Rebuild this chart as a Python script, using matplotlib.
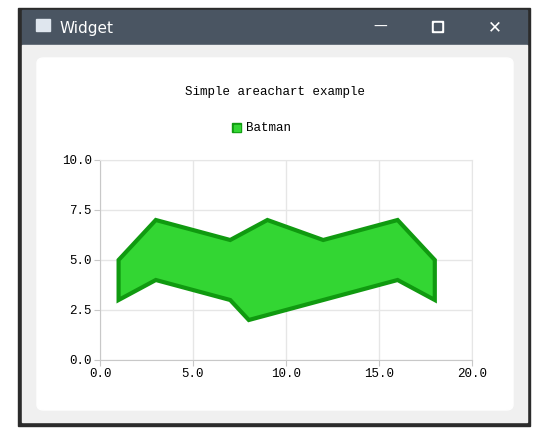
import matplotlib
matplotlib.use("Agg")
import matplotlib.pyplot as plt
from matplotlib.patches import Rectangle, FancyBboxPatch

x_upper = [1, 3, 7, 9, 12, 16, 18]
y_upper = [5, 7, 6, 7, 6, 7, 5]
x_lower = [1, 3, 7, 8, 12, 16, 18]
y_lower = [3, 4, 3, 2, 3, 4, 3]
series_name = "Batman"
title = "Simple areachart example"
xticks = [0, 5, 10, 15, 20]
yticks = [0, 2.5, 5, 7.5, 10]

W, H = 555, 441
fig = plt.figure(figsize=(W/100, H/100), dpi=100)
fig.patch.set_facecolor("white")
def R(x, y, w, h, c, z=0):
    fig.patches.append(Rectangle((x/W, 1-(y+h)/H), w/W, h/H, transform=fig.transFigure, color=c, zorder=z))
R(18, 8, 512, 418, "#2b2b2b")
R(22, 10, 505, 35, "#4a5562")
R(22, 45, 505, 377, "#f0f0f0")
fig.patches.append(FancyBboxPatch((37/W, 1-410/H), 476/W, 352/H, boxstyle="round,pad=0,rounding_size=0.012",
                                  transform=fig.transFigure, color="white", zorder=1))
R(36, 19, 14, 12, "#dfe6ee", 2)
fig.text(60/W, 1-28/H, "Widget", color="white", fontsize=11, va="center", family="DejaVu Sans")
fig.text(380/W, 1-27/H, "—", color="white", fontsize=10, va="center", ha="center")
R(432, 21, 11, 11, "white", 2)
R(434, 23, 7, 7, "#4a5562", 3)
fig.text(495/W, 1-27/H, "✕", color="white", fontsize=12, va="center", ha="center")

mono = "Liberation Mono"
fig.text(275/W, 1-92/H, title, ha="center", va="center", fontsize=9, family=mono)
R(232, 123, 9, 9, "#109a10", 2)
R(233.5, 124.5, 6, 6, "#33d633", 3)
fig.text(246/W, 1-128/H, series_name, va="center", fontsize=9, family=mono)

ax = fig.add_axes([100/W, 1-360/H, 372/W, 200/H], zorder=5)
ax.patch.set_alpha(0)
ax.fill(x_upper + x_lower[::-1], y_upper + y_lower[::-1], facecolor="#33d633",
        edgecolor="#109a10", linewidth=3, joinstyle="miter")
ax.set_xlim(0, 20); ax.set_ylim(0, 10)
ax.set_xticks(xticks); ax.set_yticks(yticks)
ax.set_xticklabels([f"{v:.1f}" for v in xticks], family=mono, fontsize=9)
ax.set_yticklabels([f"{v:.1f}" for v in yticks], family=mono, fontsize=9)
ax.grid(True, color="#e6e6e6", linewidth=1)
ax.set_axisbelow(True)
for s in ["top", "right"]:
    ax.spines[s].set_color("#e6e6e6")
for s in ["left", "bottom"]:
    ax.spines[s].set_color("#c8c8c8")
ax.tick_params(length=4, color="#c8c8c8", pad=2)
fig.savefig("out.png", dpi=100)
